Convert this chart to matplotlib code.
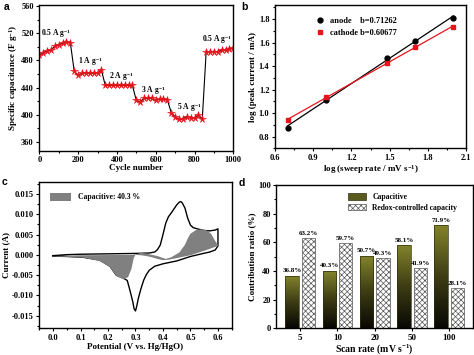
import numpy as np
import matplotlib
matplotlib.use("Agg")
import matplotlib.pyplot as plt
from matplotlib.ticker import MultipleLocator
from matplotlib.patches import Patch

plt.rcParams['font.family'] = ['Liberation Serif', 'DejaVu Serif']
plt.rcParams['font.weight'] = 'bold'
plt.rcParams['axes.labelweight'] = 'bold'
plt.rcParams['axes.linewidth'] = 1.0
plt.rcParams['mathtext.fontset'] = 'custom'
plt.rcParams['mathtext.rm'] = 'Liberation Serif:bold'
plt.rcParams['mathtext.bf'] = 'Liberation Serif:bold'
plt.rcParams['mathtext.default'] = 'bf'
plt.rcParams['hatch.linewidth'] = 0.5

# ---- panel a: rate capability ----
cycles = list(range(0, 1001, 20))
capacitance = [488, 491, 494, 495, 501, 503, 505, 507, 506,
               464, 458, 461, 461, 461, 461, 462, 466,
               443, 443, 443, 443, 443, 443, 443, 443,
               421, 419, 424, 424, 424, 421, 423, 423, 422,
               403, 397, 393, 394, 397, 395, 395, 400, 393,
               492, 493, 493, 493, 495, 495, 497, 498]
rate_labels = ['0.5 A g$^{-1}$', '1 A g$^{-1}$', '2 A g$^{-1}$',
               '3 A g$^{-1}$', '5 A g$^{-1}$', '0.5 A g$^{-1}$']
rate_label_x = [87, 261, 424, 588, 775, 916]
rate_label_y = [519, 478, 456, 436, 411, 510]

# ---- panel b: b-value fitting ----
log_rate = [0.699, 1.0, 1.477, 1.699, 2.0]
log_anode = [0.876, 1.115, 1.468, 1.617, 1.808]
log_cathode = [0.938, 1.138, 1.428, 1.561, 1.735]

# ---- panel c: CV with capacitive part (current in mA) ----
cv_fwd_v = [0.0, 0.05, 0.10, 0.20, 0.30, 0.35, 0.37, 0.38, 0.39, 0.40, 0.41,
            0.42, 0.43, 0.44, 0.45, 0.46, 0.465, 0.47, 0.48, 0.49, 0.50, 0.51,
            0.53, 0.55, 0.57, 0.59, 0.60]
cv_fwd_i = [-0.2, 0.05, 0.15, 0.25, 0.35, 0.45, 0.7, 1.3, 2.4, 5.0, 7.8,
            9.4, 10.3, 11.3, 12.3, 13.0, 13.1, 12.8, 11.5, 9.0, 7.3, 6.7,
            6.3, 6.0, 5.9, 6.1, 6.4]
cv_bwd_v = [0.60, 0.59, 0.57, 0.55, 0.50, 0.45, 0.40, 0.37, 0.35, 0.34, 0.33,
            0.32, 0.31, 0.305, 0.30, 0.295, 0.29, 0.28, 0.27, 0.26, 0.255,
            0.23, 0.207, 0.17, 0.11, 0.05, 0.0]
cv_bwd_i = [2.2, 1.2, 0.7, 0.4, -0.4, -1.5, -2.2, -2.8, -3.8, -4.8, -6.2,
            -8.3, -10.8, -12.5, -13.8, -13.3, -11.5, -8.8, -6.3, -5.9, -5.7,
            -5.0, -2.8, -1.3, -0.6, -0.4, -0.3]
cap_fwd_v = [0.0, 0.05, 0.10, 0.20, 0.29, 0.30, 0.32, 0.34, 0.36, 0.38, 0.41,
             0.43, 0.46, 0.48, 0.49, 0.50, 0.52, 0.54, 0.56, 0.575, 0.59, 0.60]
cap_fwd_i = [-0.3, -0.2, -0.1, -0.05, 0.0, 0.1, 0.5, 0.3, 0.0, -0.3, -1.0,
             -0.6, 0.6, 2.5, 4.0, 5.2, 6.1, 6.3, 6.0, 5.2, 3.4, 2.4]
cap_bwd_v = [0.60, 0.55, 0.50, 0.45, 0.42, 0.40, 0.38, 0.36, 0.34, 0.32, 0.30,
             0.294, 0.285, 0.273, 0.255, 0.23, 0.207, 0.17, 0.11, 0.05, 0.0]
cap_bwd_i = [2.2, 1.0, -0.1, -0.8, -1.2, -1.3, -1.0, -0.6, -0.3, -0.1, 0.0,
             -0.7, -3.5, -5.5, -6.0, -5.2, -3.0, -1.5, -0.7, -0.5, -0.4]

# ---- panel d: contribution ratio ----
scan_rates = ['5', '10', '20', '50', '100']
capacitive = [36.8, 40.3, 50.7, 58.1, 71.9]
redox = [63.2, 59.7, 49.3, 41.9, 28.1]

RED = '#e8141c'
W, H = 474, 355


def px_axes(l, t, r, b):
    return fig.add_axes([l / W, 1 - b / H, (r - l) / W, (b - t) / H])


def style(ax, size=6):
    ax.tick_params(which='both', direction='out', top=False, right=False,
                   labelsize=size, width=0.8, pad=1.5)
    ax.tick_params(which='major', length=2.5)
    ax.tick_params(which='minor', length=1.5)
    for lab in ax.get_xticklabels() + ax.get_yticklabels():
        lab.set_fontweight('bold')


fig = plt.figure(figsize=(W / 100, H / 100), dpi=100)

# panel a
ax = px_axes(39.3, 5.3, 233.3, 150.7)
ax.plot(cycles, capacitance, color='black', lw=0.8, marker='*', ms=5.5,
        mfc=RED, mec=RED, mew=0.4)
for t, x, y in zip(rate_labels, rate_label_x, rate_label_y):
    ax.text(x, y, t, fontsize=5.5, ha='center', va='center')
ax.set_xlim(0, 1000)
ax.set_ylim(347, 561)
ax.xaxis.set_major_locator(MultipleLocator(200))
ax.xaxis.set_minor_locator(MultipleLocator(100))
ax.yaxis.set_major_locator(MultipleLocator(40))
ax.yaxis.set_minor_locator(MultipleLocator(20))
ax.set_xlabel('Cycle number', fontsize=6.5, labelpad=0)
ax.set_ylabel('Specific capacitance (F g$^{-1}$)', fontsize=6.5, labelpad=1)
style(ax)

# panel b
ax = px_axes(275, 5, 466, 148.3)
xs = np.array(log_rate)
for ys, c, m, lab in [(log_anode, 'black', 'o', 'anode    b=0.71262'),
                      (log_cathode, RED, 's', 'cathode b=0.60677')]:
    k, b0 = np.polyfit(xs, ys, 1)
    ax.plot(xs, k * xs + b0, color=c, lw=0.9)
    ax.plot(xs, ys, ls='none', marker=m, ms=3.5, color=c, label=lab)
ax.legend(loc='upper left', bbox_to_anchor=(0.17, 0.97), frameon=False,
          fontsize=6, handlelength=1.2, handletextpad=0.6, labelspacing=0.45)
ax.set_xlim(0.6, 2.1)
ax.set_ylim(0.70, 1.92)
ax.xaxis.set_major_locator(MultipleLocator(0.3))
ax.xaxis.set_minor_locator(MultipleLocator(0.15))
ax.yaxis.set_major_locator(MultipleLocator(0.2))
ax.yaxis.set_minor_locator(MultipleLocator(0.1))
ax.set_xlabel('log (sweep rate / mV s$^{-1}$)', fontsize=6.5, labelpad=1)
ax.set_ylabel('log (peak current / mA)', fontsize=6.5, labelpad=1)
style(ax)

# panel c
ax = px_axes(39.3, 181.7, 231.7, 328)
v_loop = cv_fwd_v + cv_bwd_v
i_loop = np.array(cv_fwd_i + cv_bwd_i) / 1000
ax.plot(v_loop, i_loop, color='black', lw=1.0, zorder=2)
cap_v = cap_fwd_v + cap_bwd_v
cap_i = np.array(cap_fwd_i + cap_bwd_i) / 1000
ax.fill(cap_v, cap_i, color='#808080', lw=0, zorder=3)
ax.legend(handles=[Patch(facecolor='#808080', label='Capacitive: 40.3 %')],
          loc='upper left', bbox_to_anchor=(0.02, 0.97), frameon=False,
          fontsize=5.5, handlelength=2.8, handleheight=1.2)
ax.set_xlim(-0.05, 0.65)
ax.set_ylim(-0.018, 0.018)
ax.xaxis.set_major_locator(MultipleLocator(0.1))
ax.xaxis.set_minor_locator(MultipleLocator(0.05))
ax.yaxis.set_major_locator(MultipleLocator(0.005))
ax.yaxis.set_minor_locator(MultipleLocator(0.0025))
ax.yaxis.set_major_formatter(lambda v, p: f'{v:.3f}')
ax.set_xlabel('Potential (V vs. Hg/HgO)', fontsize=6.5, labelpad=1)
ax.set_ylabel('Current (A)', fontsize=6.5, labelpad=1)
style(ax)

# panel d
ax = px_axes(276.3, 185, 472.5, 328.3)
pos = np.arange(len(scan_rates))
bw = 0.36
grad = np.linspace(0, 1, 256).reshape(-1, 1)
olive = matplotlib.colors.LinearSegmentedColormap.from_list(
    'olive', ['#080804', '#3d3d14', '#85852c'])
bars = ax.bar(pos - 0.22, capacitive, bw, color='none', edgecolor='#303010',
              lw=0.5, zorder=3)
for bar in bars:
    x0, y0 = bar.get_x(), bar.get_y()
    img = ax.imshow(grad, cmap=olive, origin='lower', aspect='auto',
                    extent=[x0, x0 + bar.get_width(), y0, y0 + bar.get_height()],
                    zorder=2)
    img.set_clip_path(bar)
ax.bar(pos + 0.22, redox, bw, color='white', edgecolor='#555555',
       hatch='xxxxxx', lw=0.5, zorder=2)
for p, c, r in zip(pos, capacitive, redox):
    ax.text(p - 0.22, c + 1.5, f'{c}%', ha='center', va='bottom', fontsize=5)
    ax.text(p + 0.22, r + 1.5, f'{r}%', ha='center', va='bottom', fontsize=5)
ax.legend(handles=[Patch(facecolor='#5a5a1e', edgecolor='#303010', lw=0.5,
                         label='Capacitive'),
                   Patch(facecolor='white', edgecolor='#555555', hatch='xxxxxx',
                         lw=0.5, label='Redox-controlled capacity')],
          loc='upper left', bbox_to_anchor=(0.33, 0.99), frameon=False,
          fontsize=5.5, handlelength=2.4, handleheight=1.0, labelspacing=0.3)
ax.set_xlim(-0.64, 4.62)
ax.set_ylim(0, 100)
ax.set_xticks(pos, scan_rates)
ax.yaxis.set_major_locator(MultipleLocator(20))
ax.yaxis.set_minor_locator(MultipleLocator(10))
ax.set_xlabel('Scan rate (mV s$^{-1}$)', fontsize=7, labelpad=0)
ax.set_ylabel('Contribution ratio (%)', fontsize=6.5, labelpad=1)
style(ax, 6)
ax.tick_params(axis='x', labelsize=6.5)

for letter, x, y in [('a', 4, 2), ('b', 241, 2), ('c', 2, 177), ('d', 239, 178)]:
    fig.text(x / W, 1 - y / H, letter, fontsize=7.5, fontweight='bold',
             family='Liberation Sans', va='top', ha='left')

fig.savefig('out.png', dpi=100)
